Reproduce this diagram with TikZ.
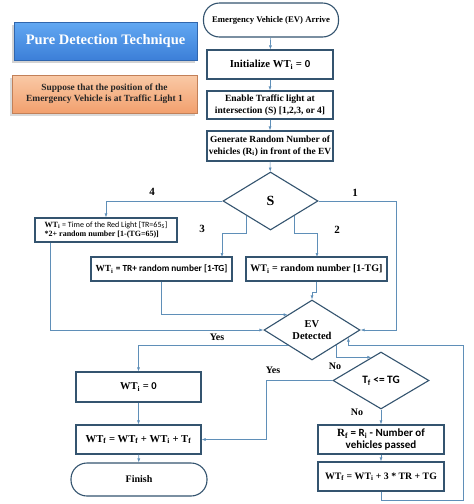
\documentclass[tikz,border=0pt]{standalone}
\usepackage{fontspec}
\setmainfont{Liberation Serif}
\newfontfamily\calb{Carlito}
\usetikzlibrary{shapes.geometric,arrows.meta,shadows,calc}
\definecolor{bordc}{HTML}{34546F}
\definecolor{linec}{HTML}{5F8FB8}
\definecolor{bluetop}{HTML}{62A8F2}
\definecolor{bluebot}{HTML}{3C7FD8}
\definecolor{ortop}{HTML}{F9C9A6}
\definecolor{orbot}{HTML}{F2A06E}
\newcommand{\sub}[1]{\textsubscript{#1}}
\begin{document}
\begin{tikzpicture}[x=1pt,y=-1pt,
  box/.style={draw=bordc, line width=1.1pt, fill=white, align=center, inner sep=1pt, font=\bfseries\fontsize{9}{10.5}\selectfont},
  term/.style={box, rounded corners=16pt},
  dia/.style={draw=bordc, line width=1.1pt, fill=white, diamond, inner sep=0pt, align=center, font=\bfseries\fontsize{10.5}{12}\selectfont},
  arr/.style={draw=linec, line width=0.6pt, -{Latex[length=4pt,width=3pt]}},
  lab/.style={font=\bfseries\fontsize{10}{12}\selectfont, inner sep=0pt},
  num/.style={font=\bfseries\fontsize{11}{13}\selectfont, inner sep=0pt}]
\useasboundingbox (0,0) rectangle (474,504);
% left title boxes
\node[draw=bluebot!80!black, line width=0.4pt, top color=bluetop, bottom color=bluebot,
  minimum width=183pt, minimum height=38pt, drop shadow={opacity=0.35, shadow xshift=-2pt, shadow yshift=-3pt},
  font=\bfseries\fontsize{14.5}{17}\selectfont, text=white] (title) at (105.5,41) {Pure Detection Technique};
\node[draw=orbot!80!black, line width=0.4pt, top color=ortop, bottom color=orbot,
  minimum width=185pt, minimum height=38pt, drop shadow={opacity=0.3, shadow xshift=-2pt, shadow yshift=-3pt},
  align=center, font=\bfseries\fontsize{9.4}{11}\selectfont, text=black!85] (note) at (104.5,94)
  {Suppose that the position of the\\Emergency Vehicle is at Traffic Light 1};
% main flow
\node[term, minimum width=135pt, minimum height=34pt, font=\bfseries\fontsize{8.7}{10}\selectfont] (start) at (271,20) {Emergency Vehicle (EV) Arrive};
\node[box, minimum width=126pt, minimum height=29pt, font=\bfseries\fontsize{10.7}{12}\selectfont] (init) at (270,64.5) {Initialize WT\sub{i} = {\calb 0}};
\node[box, minimum width=126pt, minimum height=28pt, font=\bfseries\fontsize{9.5}{11.5}\selectfont] (enable) at (270,105) {Enable Traffic light at\\intersection (S) [1,2,3, or 4]};
\node[box, minimum width=126pt, minimum height=30pt, inner xsep=0pt, font=\bfseries\fontsize{9.4}{11.5}\selectfont] (gen) at (270,146) {Generate Random Number of\\vehicles (R\sub{i}) in front of the EV};
\node[dia, minimum width=95pt, minimum height=58pt, font=\bfseries\fontsize{14}{16}\selectfont] (S) at (270.5,201) {S};
\node[box, minimum width=142pt, minimum height=24pt, inner xsep=2pt, align=left, font=\fontsize{8}{9.5}\selectfont] (b4) at (106,230)
  {\textbf{WT\sub{i}} {\calb = Time of the Red Light [TR=65\sub{S}]}\\\textbf{*2+ random number [1-(TG=65)]}};
\node[box, minimum width=141pt, minimum height=24pt, inner xsep=0pt, font=\fontsize{9.3}{11}\selectfont] (b3) at (161.5,269)
  {\textbf{WT\sub{i}} {\calb\bfseries = TR+ random number [1-TG]}};
\node[box, minimum width=141pt, minimum height=24pt, inner xsep=0pt, font=\bfseries\fontsize{10}{11}\selectfont] (b2) at (316.5,269)
  {WT\sub{i} = random number [1-TG]};
\node[dia, minimum width=96pt, minimum height=60pt] (ev) at (312,330) {EV\\Detected};
\node[box, minimum width=125pt, minimum height=30pt, font=\bfseries\fontsize{10.5}{12}\selectfont] (w0) at (138.5,387) {WT\sub{i} = {\calb 0}};
\node[box, minimum width=125pt, minimum height=29pt, font=\bfseries\fontsize{10.6}{12}\selectfont] (wtf) at (138.5,439.5) {WT\sub{f} = WT\sub{f} + WT\sub{i} + T\sub{f}};
\node[term, minimum width=136pt, minimum height=33pt, font=\bfseries\fontsize{10}{12}\selectfont] (fin) at (139,479.5) {Finish};
\node[dia, minimum width=96pt, minimum height=57pt, font=\calb\bfseries\fontsize{11.3}{13}\selectfont] (tf) at (381,380.5) {T\sub{f} <= TG};
\node[box, minimum width=126pt, minimum height=29pt, font=\calb\bfseries\fontsize{11}{12}\selectfont] (rf) at (381,439.5)
  {{\rmfamily R\sub{f}} = R\sub{i} - Number of\\vehicles passed};
\node[box, minimum width=126pt, minimum height=29pt, font=\bfseries\fontsize{9.8}{11}\selectfont] (wtf2) at (381,476.5)
  {WT\sub{f} = WT\sub{i} + 3 * TR + TG};
% connectors
\draw[arr] (start) -- (init);
\draw[arr] (init) -- (enable);
\draw[arr] (enable) -- (gen);
\draw[arr] (gen) -- (S);
\draw[arr] (S.west) -| (b4.north);
\coordinate (r1) at (396,201);
\draw[arr] (S.east) -- (r1) |- (ev.east);
\coordinate (sl) at ($(S.west)!0.5!(S.south)$);
\coordinate (sr) at ($(S.east)!0.5!(S.south)$);
\coordinate (b3in) at (222,257);
\coordinate (b2in) at (317,257);
\draw[arr] (sl) -- ++(0,18) -| (b3in);
\draw[arr] (sr) -- ++(0,18) -| (b2in);
\draw[arr] (b2.south) -- ++(0,11) -| (ev.north);
\draw[arr] (b3.south) |- ($(ev.west)!0.5!(ev.north)$);
\draw[arr] ([xshift=16pt]b4.south west) |- (ev.west);
\draw[arr] ($(ev.west)!0.5!(ev.south)$) -| (w0.north);
\draw[arr] (w0) -- (wtf);
\draw[arr] (wtf) -- (fin);
\draw[arr] ($(ev.south)!0.5!(ev.east)$) |- ($(tf.north)!0.2!(tf.west)$);
\draw[arr] (tf.west) -- ++(-66,0) |- (wtf.east);
\draw[arr] (tf) -- (rf);
\draw[arr] (rf) -- (wtf2);
\coordinate (lp) at (463,345);
\draw[arr] (wtf2.south) -- ++(0,9) -| (lp) -| ($(ev.south)!0.75!(ev.east)$);
% labels
\node[num] (n4) at (152,192) {4};
\node[num] (n1) at (355,193) {1};
\node[num] (n3) at (202,229) {3};
\node[num] (n2) at (337,230) {2};
\node[lab] (y1) at (217,337) {Yes};
\node[lab] (no1) at (335,366) {No};
\node[lab] (y2) at (273,370) {Yes};
\node[lab] (no2) at (357,412) {No};
\end{tikzpicture}
\end{document}
